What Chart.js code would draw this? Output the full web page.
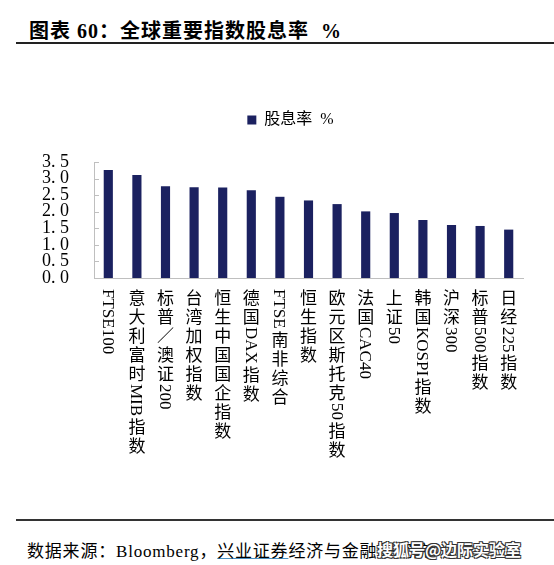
<!DOCTYPE html>
<html>
<head>
<meta charset="utf-8">
<script src="https://cdn.jsdelivr.net/npm/chart.js@4"></script>
<style>
  body { margin: 0; background: #fff; width: 554px; height: 565px; position: relative; overflow: hidden;
         font-family: 'Liberation Serif', 'Noto Sans CJK SC', serif; color: #000; }
  #title { position: absolute; left: 29px; top: 15px; font-size: 20px; font-weight: bold; white-space: pre; letter-spacing: 1px; }
  #rule1 { position: absolute; left: 16px; right: 0; top: 42px; height: 2px; background: #222; }
  #rule2 { position: absolute; left: 16px; right: 0; top: 519px; height: 2px; background: #333; }
  #source { position: absolute; left: 27px; top: 537px; font-size: 17px; letter-spacing: 0.8px; white-space: pre; }
  #source u { text-decoration-color: #4a8fc0; }
  #mark { position: absolute; left: 377px; top: 537px; font-size: 16px; font-weight: bold; color: #fff;
          font-family: 'Noto Sans CJK SC', sans-serif; white-space: pre;
          text-shadow: -1px -1px 0 #333, 1px -1px 0 #333, -1px 1px 0 #333, 1px 1px 0 #333; }
  #wrap { position: absolute; left: 0; top: 60px; width: 554px; height: 410px; }
</style>
</head>
<body>
<div id="title">图表 60：全球重要指数股息率  %</div>
<div id="rule1"></div>
<div id="wrap"><canvas id="divChart"></canvas></div>
<div id="rule2"></div>
<div id="source">数据来源：Bloomberg，<u>兴业证券</u>经济与金融研究院</div>
<div id="mark">搜狐号@边际实验室</div>
<script>
// === Données ===
const categories = ['FTSE100', '意大利富时MIB指数', '标普／澳证200', '台湾加权指数', '恒生中国国企指数',
  '德国DAX指数', 'FTSE南非综合', '恒生指数', '欧元区斯托克50指数', '法国CAC40', '上证50',
  '韩国KOSPI指数', '沪深300', '标普500指数', '日经225指数'];
const dividendYield = [3.26, 3.11, 2.77, 2.74, 2.73, 2.65, 2.45, 2.34, 2.23, 2.01, 1.96, 1.75, 1.60, 1.57, 1.46];
const seriesName = '股息率  %';

const navy = '#1b2160';
const axisGrey = '#bfbfbf';
const serif = "'Liberation Serif', 'Noto Sans CJK SC', serif";

// gap under the legend, and legend nudged right
const legendGap = {
  id: 'legendGap',
  beforeInit(chart) {
    const fit = chart.legend.fit;
    chart.legend.fit = function () {
      fit.bind(chart.legend)();
      this.height += 24;
    };
  },
  afterLayout(chart) {
    chart.legend.left += 8;
    chart.legend.right += 8;
  }
};

// small ticks pointing into the plot on the y axis
const innerTicks = {
  id: 'innerTicks',
  afterDatasetsDraw(chart) {
    const { ctx, scales: { y }, chartArea } = chart;
    ctx.save();
    ctx.strokeStyle = axisGrey;
    ctx.lineWidth = 1;
    y.ticks.forEach(t => {
      const py = Math.round(y.getPixelForValue(t.value)) + 0.5;
      ctx.beginPath();
      ctx.moveTo(chartArea.left, py);
      ctx.lineTo(chartArea.left + 5, py);
      ctx.stroke();
    });
    ctx.restore();
  }
};

// vertical category labels: CJK upright, latin runs turned clockwise
const verticalLabels = {
  id: 'verticalLabels',
  afterDraw(chart) {
    const { ctx, scales: { x } } = chart;
    const cjkSize = 17, cjkStep = 19;
    ctx.save();
    ctx.fillStyle = '#000';
    categories.forEach((label, i) => {
      const cx = x.getPixelForTick(i);
      let y = x.top + 10;
      const runs = label.match(/[\u2E80-\uFFFF]|[^\u2E80-\uFFFF]+/g);
      runs.forEach(run => {
        if (/[\u2E80-\uFFFF]/.test(run)) {
          ctx.font = cjkSize + "px 'Noto Sans CJK SC', sans-serif";
          ctx.textAlign = 'center';
          ctx.textBaseline = 'middle';
          ctx.fillText(run, cx, y + cjkStep / 2);
          y += cjkStep;
        } else {
          ctx.font = "17px 'Liberation Serif', serif";
          const w = ctx.measureText(run).width;
          ctx.save();
          ctx.translate(cx, y);
          ctx.rotate(Math.PI / 2);
          ctx.textAlign = 'left';
          ctx.textBaseline = 'middle';
          ctx.fillText(run, 1, 1);
          ctx.restore();
          y += w + 2;
        }
      });
    });
    ctx.restore();
  }
};

const ctx = document.getElementById('divChart').getContext('2d');
new Chart(ctx, {
  type: 'bar',
  data: {
    labels: categories,
    datasets: [{
      label: seriesName,
      data: dividendYield,
      backgroundColor: navy,
      borderWidth: 0,
      barPercentage: 0.32,
      categoryPercentage: 1
    }]
  },
  options: {
    responsive: true,
    maintainAspectRatio: false,
    animation: false,
    layout: { padding: { left: 42, right: 31, top: 42, bottom: 0 } },
    plugins: {
      legend: {
        position: 'top',
        labels: {
          boxWidth: 9,
          boxHeight: 9,
          color: '#000',
          font: { size: 16, family: serif }
        }
      },
      tooltip: { enabled: false }
    },
    scales: {
      x: {
        grid: { display: false },
        border: { color: axisGrey, width: 1 },
        ticks: { display: false },
        afterFit(scale) { scale.height = 192; }
      },
      y: {
        min: 0,
        max: 3.5,
        grid: { display: false, drawTicks: false },
        border: { color: axisGrey, width: 1 },
        ticks: {
          stepSize: 0.5,
          autoSkip: false,
          padding: 25,
          color: '#000',
          font: { size: 18, family: serif },
          callback: v => v.toFixed(1).replace('.', '. ')
        },
        afterFit(scale) { scale.width = 52; }
      }
    }
  },
  plugins: [legendGap, innerTicks, verticalLabels]
});
</script>
</body>
</html>
